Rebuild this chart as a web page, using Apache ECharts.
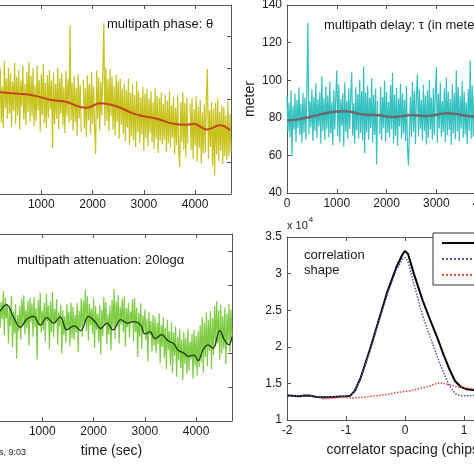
<!DOCTYPE html>
<html>
<head>
<meta charset="utf-8">
<script src="https://cdn.jsdelivr.net/npm/echarts@6/dist/echarts.min.js"></script>
<style>
  html, body { margin: 0; padding: 0; background: #fff; }
  #chart { width: 474px; height: 474px; }
</style>
</head>
<body>
<div id="chart"></div>
<script>
// seconds between samples of the three time series
const sampleStep = 20;

// multipath phase (top left), null = data gap
const phaseNoisy = [
  8.7, -3.2, 10.4, -6.9, 5.1, -8.4, 11.2, -1.7, 7.9, -5.6, 9.8, -7.3, 4.2, -9.1, 12.4, -2.8, 6.6, -6.1, 10.1, -4.5,
  8.3, -8.8, 5.7, -3.6, 11.6, -7.7, 7.2, -5.0, 9.4, -9.6, 6.0, -2.2, 10.9, -6.4, 4.8, -8.1, 8.9, -4.0, 12.0, -7.0,
  7.5, -5.3, 9.9, -8.6, 4.4, -6.8, 10.7, -3.4, 6.3, -10.2, 8.1, -4.9, 11.3, -7.5, 5.2, -9.0, 7.8, -5.8, 9.3, -3.1,
  6.1, -15.4, 8.6, -7.9, 4.9, -6.2, 10.0, -9.4, 6.8, -4.6, 8.4, -8.2, 3.9, -10.6, 9.1, -5.5, 6.4, -7.4, 23.6, -6.7,
  5.3, -9.9, 7.6, -7.1, 3.8, -11.5, 8.0, -6.0, 4.6, -10.3,
  null,
  6.2, -9.2, 3.7, -12.0, 7.7, -6.6, 5.0, -10.8, 8.8, -7.9, 4.1, -8.7, -17.3, 9.2, -6.3, 7.0, -9.8, 5.6, -5.1, 8.6,
  24.2, -8.3, 10.1, -6.8, 6.5, -10.1, 9.7, -5.4, 7.4, -9.5, 4.3, -11.4, 8.0, -7.2, 5.9, -12.5, 6.6, -8.0, 3.5,
  -10.9, 5.1, -13.2, 3.0, -9.0, 6.7, -14.4, 2.1, -11.7, 4.9, -12.9, 1.4, -15.0, 5.8, -10.4, 2.6, -13.8, 0.7, -11.1, 4.0,
  -16.3, 1.9, -12.2, 3.3, -14.8, 0.2, -10.6, 2.7, -13.5, -0.9, -15.7, 3.6, -12.4, 1.1, -17.0, 0.4, -13.1, 2.2, -14.3, -1.4,
  -12.7, 1.5, -16.6, -0.4, -13.9, 2.8, -15.3, -1.8, -12.1, 0.9, -17.4, -2.6, -14.5, 1.3, -16.0, -21.4, -0.8, -13.6, 2.4, -15.9,
  -1.1, -18.2, 0.6, -14.0,
  null,
  -1.3, -16.1, 0.5, -18.7, -3.0, -14.6, 1.2, -19.8, -2.2, -15.4, -0.1, -20.3, -4.1, -17.2, -1.6, -16.8, 0.9, 9.7, -18.9, -3.5,
  -15.1, -0.7, -21.0, -2.9, -24.1, -1.0, -17.5, 0.2, -19.6, -3.8, -16.3, -1.9, -20.5, -2.4, -17.9, -5.0, -19.2, -0.5, -18.0, -4.6, -16.7
];
const phaseTrend = [
  [0, 2.8], [200, 2.3], [500, 1.9], [850, 1.3], [1175, -0.1], [1500, -0.8], [1760, -2.4], [1890, -2.6],
  [2150, -1.2], [2475, -2.2], [2800, -4.5], [2995, -5.3], [3255, -6.1], [3580, -7.7], [3840, -8.0],
  [3970, -7.7], [4230, -9.5], [4490, -8.2], [4680, -9.8]
];

// multipath delay in meters (top right)
const delayNoisy = [
  91.8, 72.4, 88.1, 69.7, 94.6, 59.4, 86.3, 73.8, 92.9, 67.2, 89.5, 74.6, 96.1, 70.9, 87.4, 66.8, 93.3, 72.1, 90.7, 68.5,
  97.2, 130.4, 71.3, 88.8, 74.9, 95.0, 67.6, 91.2, 73.0, 98.4, 69.1, 89.9, 75.5, 93.7, 66.2, 102.1, 72.8, 90.4, 68.0, 96.8,
  74.2, 92.0, 69.5, 99.3, 71.7, 88.6, 65.4, 94.9, 73.6, 91.5, 105.3, 70.2, 97.7, 67.0, 90.1, 75.8, 93.0, 64.6, 98.9, 72.5,
  89.2, 68.8, 95.6, 74.0, 91.9, 104.2, 70.5, 87.7, 66.4, 96.3, 73.2, 92.6, 69.0, 100.4, 71.9, 94.1, 67.8, 107.3, 61.1, 93.5,
  72.2, 97.0, 68.3, 90.8, 74.4, 101.2, 66.9, 92.3, 70.8, 95.4, 55.2, 89.0,
  null,
  71.4, 96.5, 68.1, 91.0, 74.7, 99.8, 67.3, 93.8, 72.0, 88.4, 69.6, 97.4, 73.9, 104.0, 66.6, 92.2, 70.4, 95.9, 65.0, 90.3,
  75.2, 98.1, 68.7, 93.1, 71.6, 89.7, 67.5, 96.9, 63.9, 54.5, 73.3, 91.1, 69.8, 99.0, 72.6, 94.3, 66.1,
  92.7, 103.1, 70.0, 95.2, 74.1, 89.4, 67.9, 97.6, 72.9, 91.7, 65.8, 94.5, 69.3, 100.1, 73.7, 90.6, 68.4, 96.0, 71.0, 93.4,
  107.0, 66.7, 92.8, 74.5, 98.6, 69.9, 88.9, 72.3, 95.7, 67.1, 101.5, 70.7, 94.0, 73.5, 90.0, 65.7, 97.9, 71.8, 93.2, 68.6,
  105.1, 72.7, 96.2, 67.4, 91.4, 74.3, 99.5, 69.2, 93.9, 71.2, 88.2, 66.0, 95.3, 73.1, 110.3, 68.9, 97.3, 70.1, 92.4, 75.0,
  90.9, 67.7, 98.2, 72.4, 94.7, 69.4, 89.6, 73.4, 101.9, 66.5, 93.6, 71.5, 96.6, 68.2, 91.3, 74.8, 99.9, 70.3, 95.1, 67.2,
  92.1, 73.8, 103.6, 69.0, 94.2, 71.1, 97.1, 66.3, 90.5, 74.0, 98.8, 68.1, 93.0, 72.1, 96.4, 69.7, 91.6, 73.0, 100.7, 67.0,
  94.4, 71.4, 89.3, 70.6, 95.8, 68.4
];
const delayTrend = [
  [0, 78.6], [250, 79.3], [500, 80.7], [750, 82.3], [1000, 83.4], [1200, 83.5], [1400, 82.4], [1600, 81.6],
  [1850, 81.4], [2100, 80.4], [2300, 80.8], [2500, 81.5], [2800, 80.9], [3000, 81.6], [3200, 82.4],
  [3400, 82.0], [3600, 81.1], [3800, 80.6], [4100, 80.4], [4400, 80.9], [4680, 81.2]
];

// multipath attenuation 20log(alpha), dB (bottom left)
const attenNoisy = [
  -12.1, -16.8, -11.4, -15.2, -13.0, -17.9, -11.7, -14.6, -10.8, -16.3, -12.5, -15.0, -10.9, -17.4, -11.8, -14.9, -12.9, -18.6, -13.3, -16.0,
  -11.6, -19.2, -13.9, -17.1, -12.8, -20.8, -14.4, -16.7, -13.1, -18.0, -12.0, -15.8, -11.5, -17.3, -13.6, -16.4, -12.3, -18.9, -11.9, -15.5,
  -12.7, -17.6, -11.8, -16.2, -13.4, -21.0, -12.2, -15.9, -11.1, -17.0, -13.8, -16.6, -12.6, -18.3, -11.3, -15.4, -13.0, -19.5, -12.4, -16.9,
  -11.0, -17.7, -13.5, -15.7, -12.1, -18.8, -14.0, -16.1, -12.9, -20.1, -13.7, -17.4, -14.6, -18.5, -12.8, -16.5, -13.9, -19.0, -12.6, -17.8,
  -13.2, -18.1, -14.4, -17.0, -12.7, -19.9, -13.8, -16.4, -11.9, -17.6, -12.3, -15.6, -10.7, -16.8, -11.6, -18.2, -12.8, -15.9, -13.5, -17.2,
  -12.0, -19.3, -13.1, -16.6, -14.2, -18.4, -12.9, -20.2, -13.6, -17.5, -11.8, -16.0, -12.5, -18.7, -14.3, -17.3, -13.0, -19.6, -12.2, -16.3,
  -10.6, -17.9, -12.4, -16.1, -11.5, -18.6, -13.2, -15.8, -12.0, -17.0, -11.7, -19.0, -13.4, -16.2, -12.6, -17.7, -13.9, -15.5, -12.1, -18.3,
  -11.9, -16.9, -13.3, -20.6, -14.1, -17.6, -12.7, -19.4, -14.5, -16.8, -13.6, -18.1, -15.0, -21.2, -14.0, -17.4, -15.3, -19.8, -14.4, -18.9,
  -14.7, -20.0, -15.6, -18.7, -14.2, -21.5, -15.9, -19.1, -14.8, -20.7, -16.3, -22.4, -15.1, -19.6, -16.8, -21.8, -15.5, -22.9, -17.0, -20.4,
  -16.1, -23.5, -17.6, -21.1, -16.5, -22.2, -18.0, -24.0, -16.9, -21.6, -17.8, -23.1, -16.4, -22.6, -18.3, -20.9, -17.2, -23.8, -16.6, -21.9,
  -17.5, -23.3, -16.8, -22.1, -15.9, -21.4, -14.7, -22.9, -15.6, -20.6, -14.0, -21.9, -15.2, -19.7, -13.8, -22.4, -14.9, -20.3, -13.1, -19.0,
  -12.4, -18.6, -13.7, -21.0, -12.9, -20.1, -14.6, -19.4, -13.3, -21.7, -14.2, -18.8, -12.8, -19.9, -13.6, -17.9
];
const attenTrend = [
  [0, -14.6], [150, -14.0], [300, -12.9], [450, -14.9], [570, -16.2], [700, -15.0], [830, -14.6],
  [960, -15.9], [1090, -14.8], [1220, -15.6], [1350, -14.7], [1480, -16.6], [1620, -16.0],
  [1750, -16.7], [1900, -14.6], [2030, -15.4], [2140, -16.4], [2260, -15.6], [2380, -16.6],
  [2530, -15.1], [2660, -15.6], [2790, -15.4], [2920, -15.9], [3000, -17.2], [3100, -16.9],
  [3200, -17.9], [3330, -17.3], [3450, -18.2], [3560, -18.6], [3650, -19.6], [3760, -20.0],
  [3850, -20.5], [3960, -20.3], [4040, -21.1], [4130, -19.6], [4230, -18.8], [4330, -19.3],
  [4460, -16.7], [4560, -18.2], [4640, -18.8], [4700, -17.6]
];

// correlation shape (bottom right), values x 10^4
const corrNames = ['measured', 'LOS only', 'multipath'];
const corrMeasured = [
  [-2, 1.335], [-1.9, 1.33], [-1.8, 1.325], [-1.7, 1.335], [-1.6, 1.33], [-1.5, 1.315], [-1.4, 1.31],
  [-1.3, 1.31], [-1.2, 1.315], [-1.1, 1.32], [-1, 1.325], [-0.93, 1.33], [-0.85, 1.40], [-0.75, 1.58],
  [-0.6, 1.95], [-0.45, 2.35], [-0.3, 2.75], [-0.15, 3.08], [-0.05, 3.25], [0, 3.31], [0.05, 3.27],
  [0.15, 3.0], [0.3, 2.63], [0.45, 2.32], [0.55, 2.12], [0.65, 1.90], [0.75, 1.70], [0.85, 1.53],
  [0.95, 1.45], [1.05, 1.42], [1.15, 1.41], [1.3, 1.40], [1.5, 1.38], [1.7, 1.36], [2, 1.34]
];
const corrLos = [
  [-2, 1.34], [-1.9, 1.33], [-1.8, 1.33], [-1.7, 1.335], [-1.65, 1.345], [-1.6, 1.33], [-1.5, 1.315],
  [-1.4, 1.305], [-1.3, 1.31], [-1.2, 1.315], [-1.1, 1.32], [-1, 1.325], [-0.93, 1.33], [-0.85, 1.40],
  [-0.75, 1.57], [-0.6, 1.93], [-0.45, 2.33], [-0.3, 2.72], [-0.15, 3.04], [-0.05, 3.19], [0, 3.22],
  [0.05, 3.17], [0.15, 2.86], [0.3, 2.42], [0.45, 2.08], [0.55, 1.86], [0.65, 1.65], [0.75, 1.47],
  [0.85, 1.36], [0.95, 1.33], [1.05, 1.33], [1.2, 1.335], [1.5, 1.34], [2, 1.34]
];
const corrMultipath = [
  [-1.4, 1.29], [-1.2, 1.30], [-1.05, 1.31], [-0.9, 1.30], [-0.7, 1.31], [-0.5, 1.33], [-0.3, 1.35],
  [-0.1, 1.38], [0, 1.39], [0.1, 1.40], [0.25, 1.43], [0.4, 1.46], [0.5, 1.49], [0.6, 1.51],
  [0.7, 1.49], [0.8, 1.47], [0.9, 1.45], [1.0, 1.44], [1.1, 1.43], [1.3, 1.41], [1.6, 1.38], [2, 1.35]
];

const FONT = '"Liberation Sans", Arial, sans-serif';
const AXIS_COLOR = '#555';
const TEXT_COLOR = '#1a1a1a';

const toPairs = (values) => values.map((v, i) => [i * sampleStep, v]);
const plainLabel = (v) => String(v);
const timeLabel = (v) => (v % 1000 === 0 ? String(v) : '');

const axisBase = (gridIndex, min, max, interval) => ({
  type: 'value', gridIndex, min, max, interval,
  splitLine: { show: false },
  axisLine: { show: true, onZero: false, lineStyle: { color: AXIS_COLOR, width: 1 } },
  axisTick: { show: true, inside: true, length: 4, lineStyle: { color: AXIS_COLOR } }
});

// primary axis (with labels) + mirrored box axis (ticks only), matlab style
function xAxes(gridIndex, min, max, interval, formatter, name) {
  const common = axisBase(gridIndex, min, max, interval);
  return [
    {
      ...common, position: 'bottom',
      axisLabel: { color: TEXT_COLOR, fontSize: 12, fontFamily: FONT, margin: 5, formatter },
      name: name || '', nameLocation: 'middle', nameGap: 23,
      nameTextStyle: { color: TEXT_COLOR, fontSize: 14, fontFamily: FONT }
    },
    { ...common, position: 'top', axisLabel: { show: false } }
  ];
}

function yAxes(gridIndex, min, max, interval, name, showLabels) {
  const common = axisBase(gridIndex, min, max, interval);
  return [
    {
      ...common, position: 'left',
      axisLabel: { show: showLabels, color: TEXT_COLOR, fontSize: 12, fontFamily: FONT, margin: 5, formatter: plainLabel },
      name: name || '', nameLocation: 'middle', nameGap: 30,
      nameTextStyle: { color: TEXT_COLOR, fontSize: 14, fontFamily: FONT }
    },
    { ...common, position: 'right', axisLabel: { show: false } }
  ];
}

const chart = echarts.init(document.getElementById('chart'));
chart.setOption({
  animation: false,
  backgroundColor: '#fff',
  grid: [
    { left: -10, top: 5, width: 241, height: 189, outerBoundsMode: 'none' },
    { left: 287, top: 5, width: 234, height: 188, outerBoundsMode: 'none' },
    { left: -9, top: 234, width: 241, height: 187, outerBoundsMode: 'none' },
    { left: 287, top: 237, width: 236, height: 183, outerBoundsMode: 'none' }
  ],
  xAxis: [
    ...xAxes(0, 0, 4700, 1000, timeLabel),
    ...xAxes(1, 0, 4700, 1000, timeLabel),
    ...xAxes(2, 0, 4700, 1000, timeLabel, 'time (sec)'),
    ...xAxes(3, -2, 2, 1, plainLabel, 'correlator spacing (chips)')
  ],
  yAxis: [
    ...yAxes(0, -30, 30, 10, '', false),
    ...yAxes(1, 40, 140, 20, 'meter', true),
    ...yAxes(2, -30, -2.5, 5, '', false),
    ...yAxes(3, 1, 3.5, 0.5, '', true)
  ],
  legend: {
    data: corrNames,
    orient: 'vertical',
    left: 433, top: 233,
    padding: [4, 60, 4, 8],
    itemWidth: 40, itemHeight: 14, itemGap: 4,
    itemStyle: { opacity: 0 },
    borderColor: '#333', borderWidth: 1,
    backgroundColor: '#fff',
    textStyle: { color: TEXT_COLOR, fontSize: 12, fontFamily: FONT }
  },
  graphic: [
    { type: 'text', left: 107, top: 18, style: { text: 'multipath phase: θ', font: '13px ' + FONT, fill: TEXT_COLOR } },
    { type: 'text', left: 324, top: 19, style: { text: 'multipath delay: τ (in meters)', font: '13px ' + FONT, fill: TEXT_COLOR } },
    { type: 'text', left: 17, top: 254, style: { text: 'multipath attenuation: 20logα', font: '13px ' + FONT, fill: TEXT_COLOR } },
    { type: 'text', left: 304, top: 248, style: { text: 'correlation\nshape', font: '13px ' + FONT, lineHeight: 15, fill: TEXT_COLOR } },
    { type: 'text', left: 287, top: 216, style: { text: '{b|x 10}{s|4}', rich: { b: { fontSize: 11, fontFamily: FONT, fill: TEXT_COLOR, verticalAlign: 'bottom' }, s: { fontSize: 8, fontFamily: FONT, fill: TEXT_COLOR, padding: [0, 0, 7, 1] } } } },
    { type: 'text', left: -1, top: 448, style: { text: 's, 9:03', font: '9px ' + FONT, fill: TEXT_COLOR } }
  ],
  series: [
    {
      name: 'phase', type: 'line', xAxisIndex: 0, yAxisIndex: 0,
      data: toPairs(phaseNoisy), symbol: 'none',
      lineStyle: { color: '#c8c21c', width: 1.2 }
    },
    {
      name: 'phase trend', type: 'line', xAxisIndex: 0, yAxisIndex: 0,
      data: phaseTrend, symbol: 'none', smooth: 0.4, z: 3,
      lineStyle: { color: '#c2461e', width: 2 }
    },
    {
      name: 'delay', type: 'line', xAxisIndex: 2, yAxisIndex: 2,
      data: toPairs(delayNoisy), symbol: 'none',
      lineStyle: { color: '#36c1c1', width: 1.2 }
    },
    {
      name: 'delay trend', type: 'line', xAxisIndex: 2, yAxisIndex: 2,
      data: delayTrend, symbol: 'none', smooth: 0.4, z: 3,
      lineStyle: { color: '#6a6a6a', width: 2.5 }
    },
    {
      name: 'attenuation', type: 'line', xAxisIndex: 4, yAxisIndex: 4,
      data: toPairs(attenNoisy), symbol: 'none',
      lineStyle: { color: '#7dcc43', width: 1.2 }
    },
    {
      name: 'attenuation trend', type: 'line', xAxisIndex: 4, yAxisIndex: 4,
      data: attenTrend, symbol: 'none', smooth: 0.4, z: 3,
      lineStyle: { color: '#1f3a14', width: 1.3 }
    },
    {
      name: corrNames[1], type: 'line', xAxisIndex: 6, yAxisIndex: 6,
      data: corrLos, symbol: 'none', z: 3, color: '#4c5aa6',
      lineStyle: { color: '#4c5aa6', width: 1.5, type: 'dotted' }
    },
    {
      name: corrNames[0], type: 'line', xAxisIndex: 6, yAxisIndex: 6,
      data: corrMeasured, symbol: 'none', z: 2, color: '#000',
      lineStyle: { color: '#000', width: 2 }
    },
    {
      name: corrNames[2], type: 'line', xAxisIndex: 6, yAxisIndex: 6,
      data: corrMultipath, symbol: 'none', z: 3, color: '#e2473c',
      lineStyle: { color: '#e2473c', width: 1.5, type: 'dotted' }
    }
  ]
});
</script>
</body>
</html>
